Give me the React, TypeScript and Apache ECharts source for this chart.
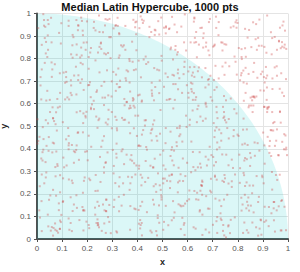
import React, { useEffect, useRef } from "react";
import * as echarts from "echarts";

const TITLE = "Median Latin Hypercube, 1000 pts";
const X_NAME = "x";
const Y_NAME = "y";

// point coordinates in thousandths (read/estimated from the reference)
const xs: number[] = [
512,87,934,263,701,348,156,829,475,620,
241,968,33,705,182,557,416,890,329,674,
799,305,621,48,953,172,487,236,868,540,
126,683,457,912,371,29,795,548,204,836,
874,411,199,637,58,982,263,705,530,318,
363,59,747,481,826,215,604,977,142,590,
935,672,288,116,413,741,859,74,567,302,
18,546,822,379,690,457,931,163,284,718,
651,233,509,864,97,316,178,742,990,425,
487,815,64,952,239,603,371,126,708,549,
202,739,913,45,568,884,121,396,657,430,
763,398,176,521,914,650,37,285,841,409,
546,92,688,837,315,971,249,403,126,754,
319,907,452,194,776,28,863,631,587,245,
828,164,371,695,2,537,414,956,283,749,
95,623,845,267,489,718,531,352,974,136,
672,288,19,903,147,466,795,814,331,558,
431,751,596,328,881,105,977,64,643,212,
157,879,233,562,634,394,81,718,905,486,
984,517,766,73,351,842,629,190,408,237,
306,44,918,452,723,268,585,671,139,897,
619,835,147,791,976,503,322,418,68,254,
243,462,579,10,186,651,898,337,724,963,
781,126,304,649,532,917,41,873,465,298,
59,357,692,884,413,179,734,526,241,968,
435,986,821,173,267,754,609,92,548,316,
867,613,43,329,795,438,152,971,206,584,
112,274,957,506,641,83,386,745,832,469,
528,741,388,216,92,693,904,457,167,815,
694,19,255,937,858,341,573,182,412,726,
373,809,632,487,145,261,35,598,926,714,
906,453,118,64,327,575,786,849,691,232,
251,687,749,392,973,826,514,47,138,405,
788,134,491,612,558,5,269,324,857,946,
14,561,873,745,206,937,648,413,392,189,
457,321,64,829,681,158,993,275,506,732,
615,948,293,157,434,789,371,886,22,562,
142,215,536,978,863,627,84,341,709,490,
839,379,707,281,95,462,165,654,513,928,
562,796,411,38,947,314,823,108,276,685,
227,53,968,684,713,842,496,571,315,139,
971,645,184,503,326,77,758,892,469,214,
386,512,825,247,659,193,41,734,907,478,
73,823,357,429,582,976,615,268,134,791,
724,187,606,992,275,538,349,458,813,61,
496,339,772,815,28,651,933,124,587,206,
851,664,91,376,197,249,527,943,702,435,
183,906,438,564,747,392,256,675,17,829,
637,274,543,112,821,707,88,369,496,955,
319,58,895,763,406,184,671,532,248,917,
904,731,212,657,369,843,475,26,118,586,
46,487,634,298,913,561,783,142,875,327,
575,162,381,849,634,25,917,493,706,258,
268,614,923,79,542,776,135,857,391,403,
743,395,157,506,281,937,662,61,828,419,
127,878,456,335,764,603,9,589,242,991,
689,247,82,915,473,368,836,727,164,551,
412,956,711,183,97,244,578,306,639,865,
858,531,294,621,906,19,347,172,495,783,
31,702,569,448,385,819,283,964,656,127,
598,326,815,734,169,472,51,253,987,643,
211,165,948,87,627,594,709,836,443,372,
955,784,406,552,233,317,126,698,74,861,
346,443,37,273,852,685,921,513,769,199,
764,91,627,389,504,158,243,881,936,417,
183,659,372,916,745,834,467,22,298,561,
627,219,854,155,66,901,396,772,543,481,
492,977,185,746,318,267,818,645,5,539,
79,556,739,823,941,422,674,357,181,208,
836,308,463,594,273,76,142,919,715,657,
271,719,597,43,482,363,985,136,806,624,
518,134,261,672,787,945,829,407,353,92,
947,463,12,317,625,538,704,281,159,876,
158,881,746,479,393,627,55,967,234,512,
405,617,932,208,164,772,588,34,853,396,
739,256,378,861,917,103,466,552,672,25,
62,845,523,996,337,284,176,638,404,711,
653,372,106,534,845,418,967,753,289,81,
384,91,677,129,558,809,231,476,938,745,
887,627,459,753,17,346,514,198,661,242,
226,536,804,687,483,961,345,116,72,758,
572,988,147,267,716,433,898,641,385,19,
831,208,369,545,607,52,713,924,186,479,
103,754,926,418,279,686,567,382,847,31,
469,387,71,862,941,128,659,735,513,206,
715,14,588,343,194,871,406,227,956,634,
297,673,839,992,545,738,104,467,56,312,
944,419,226,709,382,583,35,816,672,141,
36,824,658,185,763,497,312,579,241,906,
581,249,471,35,658,312,892,104,727,973,
366,907,192,625,843,739,526,288,417,68,
808,542,317,276,91,158,963,631,495,734,
174,63,762,459,327,886,215,943,608,591,
648,331,985,717,502,274,46,862,139,423,
425,776,44,891,126,617,358,503,964,247,
993,185,609,352,276,43,747,418,831,564,
257,894,433,568,715,326,681,179,2,938,
532,621,76,148,984,803,294,367,455,716,
11,448,867,799,237,571,116,683,924,305,
716,355,538,934,662,489,852,23,271,197
];

const ys: number[] = [
734,158,482,917,63,621,395,846,209,570,
87,563,941,326,775,412,238,659,814,190,
958,291,617,174,436,805,72,543,369,728,
415,836,29,763,591,247,970,118,682,354,
632,47,389,518,872,964,153,705,226,491,
276,719,864,93,348,582,627,431,905,157,
819,604,151,442,987,36,563,278,713,395,
168,392,747,875,214,659,483,926,531,27,
543,925,268,631,107,378,814,62,459,796,
907,126,535,284,659,743,41,398,862,617,
349,871,713,56,492,187,628,964,235,503,
61,457,982,718,826,334,295,573,149,640,
725,283,409,165,948,516,852,637,91,374,
482,694,37,839,256,971,118,305,763,527,
196,948,654,372,531,83,717,486,825,269,
867,319,126,594,703,428,256,945,38,681,
534,76,861,247,389,615,937,183,702,492,
253,782,497,908,15,361,649,536,174,827,
971,425,213,664,873,752,332,97,586,149,
398,617,766,41,529,184,892,273,935,652,
142,839,576,325,904,697,63,758,417,281,
689,251,338,786,172,41,945,614,523,867,
827,508,94,453,661,936,274,389,712,145,
315,968,741,128,476,583,807,52,234,699,
53,374,629,857,285,708,146,931,493,566,
776,143,485,692,318,862,529,207,951,34,
428,693,903,274,557,119,385,846,62,731,
619,27,262,937,744,583,491,175,808,356,
934,586,135,409,82,267,718,693,351,842,
207,752,871,563,631,398,44,924,146,485,
581,314,46,748,895,627,273,169,412,936,
852,469,697,15,233,942,576,381,724,108,
364,815,527,286,169,73,943,452,638,791,
96,648,374,872,917,435,127,756,203,519,
718,207,953,634,458,891,385,62,547,126,
437,981,218,359,706,562,843,124,675,91,
665,33,802,194,527,286,469,973,348,751,
124,576,395,947,632,719,28,853,281,467,
893,347,661,508,75,174,726,239,912,435,
251,729,84,413,896,657,534,318,176,962,
576,193,937,685,341,28,812,464,729,259,
38,862,514,247,673,388,196,731,905,629,
749,425,283,991,108,546,657,872,334,16,
319,694,748,526,257,873,432,69,185,961,
962,258,176,39,819,407,593,645,726,384,
185,537,623,807,946,214,368,492,71,755,
627,912,45,372,564,739,281,136,853,408,
473,76,396,154,728,961,843,587,619,235,
806,341,579,693,27,452,914,218,175,766,
29,783,857,246,415,126,672,368,534,991,
658,114,261,937,789,584,35,443,326,872,
391,647,918,563,82,735,456,804,279,123,
145,471,786,324,629,997,563,218,857,36,
823,296,57,481,168,352,704,615,939,547,
537,908,641,76,384,219,891,752,423,165,
264,715,483,859,532,648,127,996,61,397,
976,52,324,617,243,798,486,171,705,839,
412,839,179,205,957,63,648,324,576,781,
73,621,895,738,415,286,332,567,194,943,
781,364,502,941,619,153,97,876,238,425,
338,187,736,469,84,925,617,253,862,591,
695,946,413,128,871,547,276,39,784,352,
127,483,68,856,792,361,945,614,509,237,
859,271,614,337,148,709,583,492,26,965,
446,735,982,583,326,817,71,164,297,609,
904,18,247,672,563,136,758,385,491,829,
213,597,851,764,49,472,326,938,687,105,
572,853,129,16,687,294,419,761,935,348,
36,429,765,293,514,958,871,607,142,683,
689,174,317,836,975,562,248,453,79,717,
947,536,682,108,291,743,465,819,374,52,
258,71,436,597,809,164,932,325,713,648,
761,318,95,423,647,286,514,972,138,839,
415,892,543,751,132,978,37,666,284,309,
129,654,917,268,473,85,786,341,592,837,
836,409,274,961,725,518,153,687,42,396,
584,927,61,372,148,637,849,205,413,768,
317,146,738,849,592,463,285,7,976,621,
972,587,326,41,818,704,139,456,665,253,
46,763,489,615,357,196,938,872,524,214,
613,285,847,134,966,372,528,741,69,492,
287,924,153,456,673,809,742,318,591,35,
759,48,694,327,215,563,986,142,871,436,
164,517,382,973,748,29,456,625,237,891,
928,336,775,592,481,619,253,84,147,807,
495,681,18,247,539,886,312,963,724,176,
632,853,417,709,94,375,168,526,981,248,
83,272,936,481,614,147,527,798,365,859,
874,613,259,38,327,791,946,432,165,586,
357,918,674,823,196,542,83,269,406,735,
516,143,387,964,732,258,619,895,71,424,
249,796,528,173,45,863,371,617,982,436,
781,427,56,635,913,392,847,164,506,279,
122,674,849,397,268,516,953,741,35,483,
968,231,513,86,457,725,608,392,879,147,
405,557,762,839,123,971,284,16,648,316,
679,19,346,258,586,804,135,967,423,712,
841,386,192,725,634,457,26,579,918,263,
234,895,627,463,71,149,718,352,586,934,
562,703,985,114,849,238,361,496,627,77
];

const AXIS_MIN = 0;
const AXIS_MAX = 1;
const AXIS_STEP = 0.1;
const CIRCLE_RADIUS = 1;

const FONT = "'Liberation Sans', Arial, sans-serif";

export default function App() {
  const ref = useRef<HTMLDivElement>(null);
  useEffect(() => {
    if (!ref.current) return;
    const chart = echarts.init(ref.current, undefined, { renderer: "svg" });
    const points = xs.map((x, i) => [x / 1000, ys[i] / 1000]);

    const axisCommon = {
      type: "value" as const,
      min: AXIS_MIN,
      max: AXIS_MAX,
      interval: AXIS_STEP,
      nameLocation: "middle" as const,
      nameTextStyle: { fontFamily: FONT, fontSize: 9, fontWeight: "bold" as const, color: "#222" },
      axisLine: { show: true, lineStyle: { color: "#505050", width: 2 } },
      axisTick: { show: true, length: 3, lineStyle: { color: "#505050", width: 1 } },
      axisLabel: {
        fontFamily: FONT,
        fontSize: 8,
        color: "#555",
        formatter: (v: number) => String(Math.round(v * 10) / 10),
      },
      splitLine: { show: true, lineStyle: { color: "#e4e4e4", width: 1 } },
    };

    chart.setOption({
      animation: false,
      title: {
        text: TITLE,
        left: "center",
        top: 1.5,
        padding: 0,
        textStyle: { fontFamily: FONT, fontSize: 11, fontWeight: "bold", color: "#111" },
      },
      grid: {
        left: 37,
        right: 12,
        top: 13.5,
        bottom: 33,
        containLabel: false,
        outerBoundsMode: "none",
      },
      xAxis: {
        ...axisCommon,
        name: X_NAME,
        nameGap: 18,
        axisLabel: { ...axisCommon.axisLabel, margin: 5 },
      },
      yAxis: {
        ...axisCommon,
        name: Y_NAME,
        nameGap: 21,
        axisLabel: { ...axisCommon.axisLabel, margin: 6 },
      },
      series: [
        {
          type: "custom",
          z: 1,
          silent: true,
          clip: true,
          data: [[0, 0]],
          renderItem: (_params: any, api: any) => {
            const pts: number[][] = [api.coord([0, 0])];
            for (let k = 0; k <= 90; k++) {
              const t = (k * Math.PI) / 180;
              pts.push(api.coord([CIRCLE_RADIUS * Math.cos(t), CIRCLE_RADIUS * Math.sin(t)]));
            }
            return {
              type: "polygon",
              shape: { points: pts },
              style: { fill: "rgba(0,200,200,0.14)", stroke: "none" },
            };
          },
        },
        {
          type: "scatter",
          z: 3,
          data: points,
          symbol: "rect",
          symbolSize: 2,
          itemStyle: { color: "rgba(205,70,70,0.45)" },
          silent: true,
        },
      ],
    });
    return () => chart.dispose();
  }, []);

  return (
    <div
      ref={ref}
      style={{ position: "fixed", left: 0, top: 0, width: 300, height: 272, background: "#fff" }}
    />
  );
}
